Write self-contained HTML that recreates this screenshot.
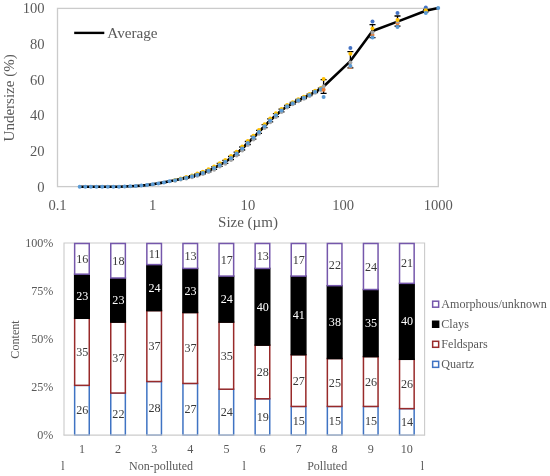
<!DOCTYPE html>
<html><head><meta charset="utf-8"><title>Chart</title>
<style>
html,body{margin:0;padding:0;background:#fff;}
svg{display:block;}
text{font-family:"Liberation Serif",serif;fill:#595959;}
</style></head><body>
<svg width="550" height="476" viewBox="0 0 550 476">
<rect width="550" height="476" fill="#fff"/>

<rect x="57.5" y="8.4" width="380.8" height="178.2" fill="none" stroke="#cbcbcb" stroke-width="1.3"/>
<text x="44.6" y="13.3" font-size="14.6" text-anchor="end">100</text>
<text x="44.6" y="48.9" font-size="14.6" text-anchor="end">80</text>
<text x="44.6" y="84.6" font-size="14.6" text-anchor="end">60</text>
<text x="44.6" y="120.2" font-size="14.6" text-anchor="end">40</text>
<text x="44.6" y="155.9" font-size="14.6" text-anchor="end">20</text>
<text x="44.6" y="191.5" font-size="14.6" text-anchor="end">0</text>
<text x="57.5" y="209.7" font-size="14.6" text-anchor="middle">0.1</text>
<text x="152.7" y="209.7" font-size="14.6" text-anchor="middle">1</text>
<text x="247.9" y="209.7" font-size="14.6" text-anchor="middle">10</text>
<text x="343.1" y="209.7" font-size="14.6" text-anchor="middle">100</text>
<text x="438.3" y="209.7" font-size="14.6" text-anchor="middle">1000</text>
<text x="248" y="226.5" font-size="15" text-anchor="middle">Size (µm)</text>
<text transform="translate(14.1,97.9) rotate(-90)" font-size="15" text-anchor="middle">Undersize (%)</text>
<line x1="74.2" y1="32.9" x2="104.3" y2="32.9" stroke="#000" stroke-width="2.4"/>
<text x="107.3" y="37.9" font-size="15.2">Average</text>
<polyline fill="none" stroke="#000" stroke-width="2.6" stroke-linejoin="round" points="79.7,186.7 85.3,186.7 90.9,186.7 96.5,186.7 102.2,186.7 107.8,186.7 113.4,186.7 119.0,186.7 124.6,186.5 130.2,186.3 135.8,186.0 141.4,185.6 147.1,185.0 152.7,184.3 158.3,183.4 163.9,182.4 169.5,181.3 175.1,180.3 180.7,179.0 186.3,177.7 192.0,176.3 197.3,174.7 202.9,172.9 208.5,170.7 214.1,168.1 219.7,164.9 225.3,161.8 231.0,158.0 236.6,153.6 242.2,148.5 247.8,143.0 253.4,137.6 259.0,131.9 264.6,126.2 270.2,120.4 275.9,115.2 281.5,110.5 287.1,106.3 292.7,103.3 298.3,100.2 303.9,97.7 309.5,94.9 315.1,91.8 320.8,88.9 323.6,86.5 350.4,61.1 372.5,31.0 397.5,21.6 425.8,10.7 438.2,8.0"/>
<circle cx="79.7" cy="186.7" r="2.0" fill="#5b9bd5"/>
<circle cx="85.3" cy="186.7" r="2.0" fill="#5b9bd5"/>
<circle cx="90.9" cy="186.7" r="2.0" fill="#5b9bd5"/>
<circle cx="96.5" cy="186.7" r="2.0" fill="#5b9bd5"/>
<circle cx="102.2" cy="186.7" r="2.0" fill="#5b9bd5"/>
<circle cx="107.8" cy="186.7" r="2.0" fill="#5b9bd5"/>
<circle cx="113.4" cy="186.7" r="2.0" fill="#5b9bd5"/>
<circle cx="119.0" cy="186.7" r="2.0" fill="#5b9bd5"/>
<circle cx="124.6" cy="186.5" r="2.0" fill="#5b9bd5"/>
<circle cx="130.2" cy="186.3" r="2.0" fill="#5b9bd5"/>
<circle cx="135.8" cy="186.0" r="2.0" fill="#5b9bd5"/>
<circle cx="141.4" cy="185.6" r="2.0" fill="#5b9bd5"/>
<circle cx="147.1" cy="185.0" r="2.0" fill="#5b9bd5"/>
<circle cx="152.7" cy="184.3" r="2.0" fill="#5b9bd5"/>
<circle cx="158.3" cy="183.4" r="2.0" fill="#5b9bd5"/>
<circle cx="163.9" cy="182.4" r="2.0" fill="#5b9bd5"/>
<circle cx="169.5" cy="181.3" r="2.0" fill="#5b9bd5"/>
<circle cx="175.1" cy="180.7" r="2.0" fill="#a5a5a5"/>
<circle cx="175.1" cy="179.9" r="2.0" fill="#ffc000"/>
<circle cx="175.1" cy="180.3" r="2.0" fill="#5b9bd5"/>
<path d="M180.7,178.6V179.4M177.7,178.6H183.7M177.7,179.4H183.7" stroke="#000" stroke-width="1.3" fill="none"/>
<circle cx="180.7" cy="179.5" r="2.0" fill="#a5a5a5"/>
<circle cx="180.7" cy="178.5" r="2.0" fill="#ffc000"/>
<circle cx="180.7" cy="179.0" r="2.0" fill="#5b9bd5"/>
<path d="M186.3,177.1V178.3M183.3,177.1H189.3M183.3,178.3H189.3" stroke="#000" stroke-width="1.3" fill="none"/>
<circle cx="186.3" cy="178.4" r="2.0" fill="#a5a5a5"/>
<circle cx="186.3" cy="177.0" r="2.0" fill="#ffc000"/>
<circle cx="186.3" cy="177.7" r="2.0" fill="#5b9bd5"/>
<path d="M192.0,175.6V177.0M189.0,175.6H195.0M189.0,177.0H195.0" stroke="#000" stroke-width="1.3" fill="none"/>
<circle cx="192.0" cy="177.2" r="2.0" fill="#a5a5a5"/>
<circle cx="192.0" cy="175.4" r="2.0" fill="#ffc000"/>
<circle cx="192.0" cy="176.3" r="2.0" fill="#5b9bd5"/>
<path d="M197.3,173.9V175.5M194.3,173.9H200.3M194.3,175.5H200.3" stroke="#000" stroke-width="1.3" fill="none"/>
<circle cx="197.3" cy="175.8" r="2.0" fill="#a5a5a5"/>
<circle cx="197.3" cy="173.6" r="2.0" fill="#ffc000"/>
<circle cx="197.3" cy="174.7" r="2.0" fill="#5b9bd5"/>
<path d="M202.9,171.9V173.9M199.9,171.9H205.9M199.9,173.9H205.9" stroke="#000" stroke-width="1.3" fill="none"/>
<circle cx="202.9" cy="174.1" r="2.0" fill="#a5a5a5"/>
<circle cx="202.9" cy="171.7" r="2.0" fill="#ffc000"/>
<circle cx="202.9" cy="172.9" r="2.0" fill="#5b9bd5"/>
<path d="M208.5,169.6V171.8M205.5,169.6H211.5M205.5,171.8H211.5" stroke="#000" stroke-width="1.3" fill="none"/>
<circle cx="208.5" cy="172.1" r="2.0" fill="#a5a5a5"/>
<circle cx="208.5" cy="169.3" r="2.0" fill="#ffc000"/>
<circle cx="208.5" cy="170.7" r="2.0" fill="#5b9bd5"/>
<path d="M214.1,166.9V169.3M211.1,166.9H217.1M211.1,169.3H217.1" stroke="#000" stroke-width="1.3" fill="none"/>
<circle cx="214.1" cy="169.7" r="2.0" fill="#a5a5a5"/>
<circle cx="214.1" cy="166.5" r="2.0" fill="#ffc000"/>
<circle cx="214.1" cy="168.1" r="2.0" fill="#5b9bd5"/>
<path d="M219.7,163.5V166.3M216.7,163.5H222.7M216.7,166.3H222.7" stroke="#000" stroke-width="1.3" fill="none"/>
<circle cx="219.7" cy="166.6" r="2.0" fill="#a5a5a5"/>
<circle cx="219.7" cy="163.2" r="2.0" fill="#ffc000"/>
<circle cx="219.7" cy="164.9" r="2.0" fill="#5b9bd5"/>
<path d="M225.3,160.3V163.3M222.3,160.3H228.3M222.3,163.3H228.3" stroke="#000" stroke-width="1.3" fill="none"/>
<circle cx="225.3" cy="163.7" r="2.0" fill="#a5a5a5"/>
<circle cx="225.3" cy="159.9" r="2.0" fill="#ffc000"/>
<circle cx="225.3" cy="161.8" r="2.0" fill="#5b9bd5"/>
<path d="M231.0,156.5V159.5M228.0,156.5H234.0M228.0,159.5H234.0" stroke="#000" stroke-width="1.3" fill="none"/>
<circle cx="231.0" cy="159.9" r="2.0" fill="#a5a5a5"/>
<circle cx="231.0" cy="156.1" r="2.0" fill="#ffc000"/>
<circle cx="231.0" cy="158.0" r="2.0" fill="#5b9bd5"/>
<path d="M236.6,152.1V155.1M233.6,152.1H239.6M233.6,155.1H239.6" stroke="#000" stroke-width="1.3" fill="none"/>
<circle cx="236.6" cy="155.5" r="2.0" fill="#a5a5a5"/>
<circle cx="236.6" cy="151.7" r="2.0" fill="#ffc000"/>
<circle cx="236.6" cy="153.6" r="2.0" fill="#5b9bd5"/>
<path d="M242.2,147.0V150.0M239.2,147.0H245.2M239.2,150.0H245.2" stroke="#000" stroke-width="1.3" fill="none"/>
<circle cx="242.2" cy="150.4" r="2.0" fill="#a5a5a5"/>
<circle cx="242.2" cy="146.6" r="2.0" fill="#ffc000"/>
<circle cx="242.2" cy="148.5" r="2.0" fill="#5b9bd5"/>
<path d="M247.8,141.5V144.5M244.8,141.5H250.8M244.8,144.5H250.8" stroke="#000" stroke-width="1.3" fill="none"/>
<circle cx="247.8" cy="144.9" r="2.0" fill="#a5a5a5"/>
<circle cx="247.8" cy="141.1" r="2.0" fill="#ffc000"/>
<circle cx="247.8" cy="143.0" r="2.0" fill="#5b9bd5"/>
<path d="M253.4,136.1V139.1M250.4,136.1H256.4M250.4,139.1H256.4" stroke="#000" stroke-width="1.3" fill="none"/>
<circle cx="253.4" cy="139.5" r="2.0" fill="#a5a5a5"/>
<circle cx="253.4" cy="135.7" r="2.0" fill="#ffc000"/>
<circle cx="253.4" cy="137.6" r="2.0" fill="#5b9bd5"/>
<path d="M259.0,130.4V133.4M256.0,130.4H262.0M256.0,133.4H262.0" stroke="#000" stroke-width="1.3" fill="none"/>
<circle cx="259.0" cy="133.8" r="2.0" fill="#a5a5a5"/>
<circle cx="259.0" cy="130.0" r="2.0" fill="#ffc000"/>
<circle cx="259.0" cy="131.9" r="2.0" fill="#5b9bd5"/>
<path d="M264.6,124.7V127.7M261.6,124.7H267.6M261.6,127.7H267.6" stroke="#000" stroke-width="1.3" fill="none"/>
<circle cx="264.6" cy="128.1" r="2.0" fill="#a5a5a5"/>
<circle cx="264.6" cy="124.3" r="2.0" fill="#ffc000"/>
<circle cx="264.6" cy="126.2" r="2.0" fill="#5b9bd5"/>
<path d="M270.2,118.9V121.9M267.2,118.9H273.2M267.2,121.9H273.2" stroke="#000" stroke-width="1.3" fill="none"/>
<circle cx="270.2" cy="122.3" r="2.0" fill="#a5a5a5"/>
<circle cx="270.2" cy="118.5" r="2.0" fill="#ffc000"/>
<circle cx="270.2" cy="120.4" r="2.0" fill="#5b9bd5"/>
<path d="M275.9,113.7V116.7M272.9,113.7H278.9M272.9,116.7H278.9" stroke="#000" stroke-width="1.3" fill="none"/>
<circle cx="275.9" cy="117.1" r="2.0" fill="#a5a5a5"/>
<circle cx="275.9" cy="113.3" r="2.0" fill="#ffc000"/>
<circle cx="275.9" cy="115.2" r="2.0" fill="#5b9bd5"/>
<path d="M281.5,109.2V111.8M278.5,109.2H284.5M278.5,111.8H284.5" stroke="#000" stroke-width="1.3" fill="none"/>
<circle cx="281.5" cy="112.1" r="2.0" fill="#a5a5a5"/>
<circle cx="281.5" cy="108.9" r="2.0" fill="#ffc000"/>
<circle cx="281.5" cy="110.5" r="2.0" fill="#5b9bd5"/>
<path d="M287.1,105.3V107.3M284.1,105.3H290.1M284.1,107.3H290.1" stroke="#000" stroke-width="1.3" fill="none"/>
<circle cx="287.1" cy="107.6" r="2.0" fill="#a5a5a5"/>
<circle cx="287.1" cy="105.0" r="2.0" fill="#ffc000"/>
<circle cx="287.1" cy="106.3" r="2.0" fill="#5b9bd5"/>
<path d="M292.7,102.5V104.1M289.7,102.5H295.7M289.7,104.1H295.7" stroke="#000" stroke-width="1.3" fill="none"/>
<circle cx="292.7" cy="104.3" r="2.0" fill="#a5a5a5"/>
<circle cx="292.7" cy="102.3" r="2.0" fill="#ffc000"/>
<circle cx="292.7" cy="103.3" r="2.0" fill="#5b9bd5"/>
<path d="M298.3,99.4V101.0M295.3,99.4H301.3M295.3,101.0H301.3" stroke="#000" stroke-width="1.3" fill="none"/>
<circle cx="298.3" cy="101.2" r="2.0" fill="#a5a5a5"/>
<circle cx="298.3" cy="99.2" r="2.0" fill="#ffc000"/>
<circle cx="298.3" cy="100.2" r="2.0" fill="#5b9bd5"/>
<path d="M303.9,96.9V98.5M300.9,96.9H306.9M300.9,98.5H306.9" stroke="#000" stroke-width="1.3" fill="none"/>
<circle cx="303.9" cy="98.7" r="2.0" fill="#a5a5a5"/>
<circle cx="303.9" cy="96.7" r="2.0" fill="#ffc000"/>
<circle cx="303.9" cy="97.7" r="2.0" fill="#5b9bd5"/>
<path d="M309.5,94.1V95.7M306.5,94.1H312.5M306.5,95.7H312.5" stroke="#000" stroke-width="1.3" fill="none"/>
<circle cx="309.5" cy="95.9" r="2.0" fill="#a5a5a5"/>
<circle cx="309.5" cy="93.9" r="2.0" fill="#ffc000"/>
<circle cx="309.5" cy="94.9" r="2.0" fill="#5b9bd5"/>
<path d="M315.1,91.0V92.6M312.1,91.0H318.1M312.1,92.6H318.1" stroke="#000" stroke-width="1.3" fill="none"/>
<circle cx="315.1" cy="92.8" r="2.0" fill="#a5a5a5"/>
<circle cx="315.1" cy="90.8" r="2.0" fill="#ffc000"/>
<circle cx="315.1" cy="91.8" r="2.0" fill="#5b9bd5"/>
<path d="M320.8,88.1V89.7M317.8,88.1H323.8M317.8,89.7H323.8" stroke="#000" stroke-width="1.3" fill="none"/>
<circle cx="320.8" cy="89.9" r="2.0" fill="#a5a5a5"/>
<circle cx="320.8" cy="87.9" r="2.0" fill="#ffc000"/>
<circle cx="320.8" cy="88.9" r="2.0" fill="#5b9bd5"/>
<path d="M323.6,79.6V93.3M320.6,79.6H326.6M320.6,93.3H326.6" stroke="#000" stroke-width="1.3" fill="none"/>
<circle cx="323.6" cy="79.1" r="2.0" fill="#ffc000"/>
<circle cx="323.6" cy="89.7" r="2.0" fill="#ed7d31"/>
<circle cx="323.6" cy="86.2" r="2.0" fill="#a5a5a5"/>
<circle cx="323.6" cy="97.1" r="2.0" fill="#5b9bd5"/>
<path d="M350.4,51.6V67.8M347.4,51.6H353.4M347.4,67.8H353.4" stroke="#000" stroke-width="1.3" fill="none"/>
<circle cx="350.4" cy="47.9" r="2.0" fill="#4472c4"/>
<circle cx="350.4" cy="53.8" r="2.0" fill="#ffc000"/>
<circle cx="350.4" cy="67.0" r="2.0" fill="#ed7d31"/>
<circle cx="350.4" cy="62.6" r="2.0" fill="#a5a5a5"/>
<circle cx="350.4" cy="65.9" r="2.0" fill="#5b9bd5"/>
<path d="M372.5,24.7V37.6M369.5,24.7H375.5M369.5,37.6H375.5" stroke="#000" stroke-width="1.3" fill="none"/>
<circle cx="372.5" cy="21.5" r="2.0" fill="#4472c4"/>
<circle cx="372.5" cy="28.4" r="2.0" fill="#ffc000"/>
<circle cx="372.5" cy="35.0" r="2.0" fill="#ed7d31"/>
<circle cx="372.5" cy="32.4" r="2.0" fill="#a5a5a5"/>
<circle cx="372.5" cy="37.6" r="2.0" fill="#5b9bd5"/>
<path d="M397.5,16.0V26.2M394.5,16.0H400.5M394.5,26.2H400.5" stroke="#000" stroke-width="1.3" fill="none"/>
<circle cx="397.5" cy="13.1" r="2.0" fill="#4472c4"/>
<circle cx="397.5" cy="23.3" r="2.0" fill="#ed7d31"/>
<circle cx="397.5" cy="21.8" r="2.0" fill="#a5a5a5"/>
<circle cx="397.5" cy="20.0" r="2.0" fill="#ffc000"/>
<circle cx="397.5" cy="26.9" r="2.0" fill="#5b9bd5"/>
<path d="M425.8,9.3V12.2M423.2,9.3H428.4M423.2,12.2H428.4" stroke="#000" stroke-width="1.3" fill="none"/>
<circle cx="425.8" cy="7.6" r="2.0" fill="#4472c4"/>
<circle cx="425.8" cy="11.2" r="2.0" fill="#a5a5a5"/>
<circle cx="425.8" cy="10.2" r="2.0" fill="#ffc000"/>
<circle cx="425.8" cy="13.1" r="2.0" fill="#5b9bd5"/>
<circle cx="438.2" cy="8.0" r="2.0" fill="#5b9bd5"/>
<path d="M64.0,435.2V243.0H424.6V435.2" fill="none" stroke="#cbcbcb" stroke-width="1.1"/>
<text x="53.4" y="246.9" font-size="12.1" text-anchor="end">100%</text>
<text x="53.4" y="294.9" font-size="12.1" text-anchor="end">75%</text>
<text x="53.4" y="343.0" font-size="12.1" text-anchor="end">50%</text>
<text x="53.4" y="391.0" font-size="12.1" text-anchor="end">25%</text>
<text x="53.4" y="439.1" font-size="12.1" text-anchor="end">0%</text>
<text transform="translate(18.7,339.5) rotate(-90)" font-size="12.1" text-anchor="middle">Content</text>
<rect x="74.65" y="385.36" width="14.6" height="49.84" fill="#fff" stroke="#3f73c3" stroke-width="1.5"/>
<rect x="74.65" y="318.26" width="14.6" height="67.09" fill="#fff" stroke="#982a2a" stroke-width="1.5"/>
<rect x="74.65" y="274.17" width="14.6" height="44.09" fill="#000" stroke="#000" stroke-width="1.5"/>
<rect x="74.65" y="243.50" width="14.6" height="30.67" fill="#fff" stroke="#7557ab" stroke-width="1.5"/>
<rect x="110.75" y="393.03" width="14.6" height="42.17" fill="#fff" stroke="#3f73c3" stroke-width="1.5"/>
<rect x="110.75" y="322.10" width="14.6" height="70.93" fill="#fff" stroke="#982a2a" stroke-width="1.5"/>
<rect x="110.75" y="278.01" width="14.6" height="44.09" fill="#000" stroke="#000" stroke-width="1.5"/>
<rect x="110.75" y="243.50" width="14.6" height="34.51" fill="#fff" stroke="#7557ab" stroke-width="1.5"/>
<rect x="146.85" y="381.52" width="14.6" height="53.68" fill="#fff" stroke="#3f73c3" stroke-width="1.5"/>
<rect x="146.85" y="310.59" width="14.6" height="70.93" fill="#fff" stroke="#982a2a" stroke-width="1.5"/>
<rect x="146.85" y="264.59" width="14.6" height="46.01" fill="#000" stroke="#000" stroke-width="1.5"/>
<rect x="146.85" y="243.50" width="14.6" height="21.09" fill="#fff" stroke="#7557ab" stroke-width="1.5"/>
<rect x="182.95" y="383.44" width="14.6" height="51.76" fill="#fff" stroke="#3f73c3" stroke-width="1.5"/>
<rect x="182.95" y="312.51" width="14.6" height="70.93" fill="#fff" stroke="#982a2a" stroke-width="1.5"/>
<rect x="182.95" y="268.42" width="14.6" height="44.09" fill="#000" stroke="#000" stroke-width="1.5"/>
<rect x="182.95" y="243.50" width="14.6" height="24.92" fill="#fff" stroke="#7557ab" stroke-width="1.5"/>
<rect x="219.05" y="389.19" width="14.6" height="46.01" fill="#fff" stroke="#3f73c3" stroke-width="1.5"/>
<rect x="219.05" y="322.10" width="14.6" height="67.10" fill="#fff" stroke="#982a2a" stroke-width="1.5"/>
<rect x="219.05" y="276.09" width="14.6" height="46.01" fill="#000" stroke="#000" stroke-width="1.5"/>
<rect x="219.05" y="243.50" width="14.6" height="32.59" fill="#fff" stroke="#7557ab" stroke-width="1.5"/>
<rect x="255.15" y="398.78" width="14.6" height="36.42" fill="#fff" stroke="#3f73c3" stroke-width="1.5"/>
<rect x="255.15" y="345.10" width="14.6" height="53.68" fill="#fff" stroke="#982a2a" stroke-width="1.5"/>
<rect x="255.15" y="268.42" width="14.6" height="76.68" fill="#000" stroke="#000" stroke-width="1.5"/>
<rect x="255.15" y="243.50" width="14.6" height="24.92" fill="#fff" stroke="#7557ab" stroke-width="1.5"/>
<rect x="291.25" y="406.44" width="14.6" height="28.75" fill="#fff" stroke="#3f73c3" stroke-width="1.5"/>
<rect x="291.25" y="354.69" width="14.6" height="51.76" fill="#fff" stroke="#982a2a" stroke-width="1.5"/>
<rect x="291.25" y="276.09" width="14.6" height="78.60" fill="#000" stroke="#000" stroke-width="1.5"/>
<rect x="291.25" y="243.50" width="14.6" height="32.59" fill="#fff" stroke="#7557ab" stroke-width="1.5"/>
<rect x="327.35" y="406.44" width="14.6" height="28.75" fill="#fff" stroke="#3f73c3" stroke-width="1.5"/>
<rect x="327.35" y="358.52" width="14.6" height="47.93" fill="#fff" stroke="#982a2a" stroke-width="1.5"/>
<rect x="327.35" y="285.67" width="14.6" height="72.85" fill="#000" stroke="#000" stroke-width="1.5"/>
<rect x="327.35" y="243.50" width="14.6" height="42.17" fill="#fff" stroke="#7557ab" stroke-width="1.5"/>
<rect x="363.45" y="406.44" width="14.6" height="28.75" fill="#fff" stroke="#3f73c3" stroke-width="1.5"/>
<rect x="363.45" y="356.60" width="14.6" height="49.84" fill="#fff" stroke="#982a2a" stroke-width="1.5"/>
<rect x="363.45" y="289.51" width="14.6" height="67.09" fill="#000" stroke="#000" stroke-width="1.5"/>
<rect x="363.45" y="243.50" width="14.6" height="46.01" fill="#fff" stroke="#7557ab" stroke-width="1.5"/>
<rect x="399.55" y="408.63" width="14.6" height="26.57" fill="#fff" stroke="#3f73c3" stroke-width="1.5"/>
<rect x="399.55" y="359.28" width="14.6" height="49.35" fill="#fff" stroke="#982a2a" stroke-width="1.5"/>
<rect x="399.55" y="283.36" width="14.6" height="75.92" fill="#000" stroke="#000" stroke-width="1.5"/>
<rect x="399.55" y="243.50" width="14.6" height="39.86" fill="#fff" stroke="#7557ab" stroke-width="1.5"/>
<line x1="63.5" y1="435.2" x2="425.1" y2="435.2" stroke="#cbcbcb" stroke-width="1.2"/>
<text x="82.2" y="414.3" font-size="12.1" text-anchor="middle" style="fill:#383838">26</text>
<text x="82.2" y="355.8" font-size="12.1" text-anchor="middle" style="fill:#383838">35</text>
<text x="82.2" y="300.2" font-size="12.1" text-anchor="middle" style="fill:#fff">23</text>
<text x="82.2" y="262.8" font-size="12.1" text-anchor="middle" style="fill:#383838">16</text>
<text x="82.0" y="453.4" font-size="12.1" text-anchor="middle">1</text>
<text x="118.4" y="418.1" font-size="12.1" text-anchor="middle" style="fill:#383838">22</text>
<text x="118.4" y="361.6" font-size="12.1" text-anchor="middle" style="fill:#383838">37</text>
<text x="118.4" y="304.1" font-size="12.1" text-anchor="middle" style="fill:#fff">23</text>
<text x="118.4" y="264.8" font-size="12.1" text-anchor="middle" style="fill:#383838">18</text>
<text x="118.1" y="453.4" font-size="12.1" text-anchor="middle">2</text>
<text x="154.5" y="412.4" font-size="12.1" text-anchor="middle" style="fill:#383838">28</text>
<text x="154.5" y="350.1" font-size="12.1" text-anchor="middle" style="fill:#383838">37</text>
<text x="154.5" y="291.6" font-size="12.1" text-anchor="middle" style="fill:#fff">24</text>
<text x="154.5" y="258.0" font-size="12.1" text-anchor="middle" style="fill:#383838">11</text>
<text x="154.2" y="453.4" font-size="12.1" text-anchor="middle">3</text>
<text x="190.6" y="413.3" font-size="12.1" text-anchor="middle" style="fill:#383838">27</text>
<text x="190.6" y="352.0" font-size="12.1" text-anchor="middle" style="fill:#383838">37</text>
<text x="190.6" y="294.5" font-size="12.1" text-anchor="middle" style="fill:#fff">23</text>
<text x="190.6" y="260.0" font-size="12.1" text-anchor="middle" style="fill:#383838">13</text>
<text x="190.3" y="453.4" font-size="12.1" text-anchor="middle">4</text>
<text x="226.7" y="416.2" font-size="12.1" text-anchor="middle" style="fill:#383838">24</text>
<text x="226.7" y="359.6" font-size="12.1" text-anchor="middle" style="fill:#383838">35</text>
<text x="226.7" y="303.1" font-size="12.1" text-anchor="middle" style="fill:#fff">24</text>
<text x="226.7" y="263.8" font-size="12.1" text-anchor="middle" style="fill:#383838">17</text>
<text x="226.4" y="453.4" font-size="12.1" text-anchor="middle">5</text>
<text x="262.8" y="421.0" font-size="12.1" text-anchor="middle" style="fill:#383838">19</text>
<text x="262.8" y="375.9" font-size="12.1" text-anchor="middle" style="fill:#383838">28</text>
<text x="262.8" y="310.8" font-size="12.1" text-anchor="middle" style="fill:#fff">40</text>
<text x="262.8" y="260.0" font-size="12.1" text-anchor="middle" style="fill:#383838">13</text>
<text x="262.4" y="453.4" font-size="12.1" text-anchor="middle">6</text>
<text x="298.8" y="424.8" font-size="12.1" text-anchor="middle" style="fill:#383838">15</text>
<text x="298.8" y="384.6" font-size="12.1" text-anchor="middle" style="fill:#383838">27</text>
<text x="298.8" y="319.4" font-size="12.1" text-anchor="middle" style="fill:#fff">41</text>
<text x="298.8" y="263.8" font-size="12.1" text-anchor="middle" style="fill:#383838">17</text>
<text x="298.5" y="453.4" font-size="12.1" text-anchor="middle">7</text>
<text x="334.9" y="424.8" font-size="12.1" text-anchor="middle" style="fill:#383838">15</text>
<text x="334.9" y="386.5" font-size="12.1" text-anchor="middle" style="fill:#383838">25</text>
<text x="334.9" y="326.1" font-size="12.1" text-anchor="middle" style="fill:#fff">38</text>
<text x="334.9" y="268.6" font-size="12.1" text-anchor="middle" style="fill:#383838">22</text>
<text x="334.6" y="453.4" font-size="12.1" text-anchor="middle">8</text>
<text x="371.1" y="424.8" font-size="12.1" text-anchor="middle" style="fill:#383838">15</text>
<text x="371.1" y="385.5" font-size="12.1" text-anchor="middle" style="fill:#383838">26</text>
<text x="371.1" y="327.1" font-size="12.1" text-anchor="middle" style="fill:#fff">35</text>
<text x="371.1" y="270.5" font-size="12.1" text-anchor="middle" style="fill:#383838">24</text>
<text x="370.8" y="453.4" font-size="12.1" text-anchor="middle">9</text>
<text x="407.1" y="425.9" font-size="12.1" text-anchor="middle" style="fill:#383838">14</text>
<text x="407.1" y="388.0" font-size="12.1" text-anchor="middle" style="fill:#383838">26</text>
<text x="407.1" y="325.3" font-size="12.1" text-anchor="middle" style="fill:#fff">40</text>
<text x="407.1" y="267.4" font-size="12.1" text-anchor="middle" style="fill:#383838">21</text>
<text x="406.8" y="453.4" font-size="12.1" text-anchor="middle">10</text>
<text x="63.0" y="470.0" font-size="12" text-anchor="middle">l</text>
<text x="244.2" y="470.0" font-size="12" text-anchor="middle">l</text>
<text x="422.5" y="470.0" font-size="12" text-anchor="middle">l</text>
<text x="161.0" y="470.0" font-size="12" text-anchor="middle">Non-polluted</text>
<text x="327.2" y="470.0" font-size="12" text-anchor="middle">Polluted</text>
<rect x="432.65" y="301.20" width="6.0" height="6.0" fill="#fff" stroke="#7557ab" stroke-width="1.5"/>
<text x="441.3" y="307.6" font-size="12.1">Amorphous/unknown</text>
<rect x="432.65" y="321.25" width="6.0" height="6.0" fill="#000" stroke="#000" stroke-width="1.5"/>
<text x="441.3" y="327.6" font-size="12.1">Clays</text>
<rect x="432.65" y="341.30" width="6.0" height="6.0" fill="#fff" stroke="#982a2a" stroke-width="1.5"/>
<text x="441.3" y="347.7" font-size="12.1">Feldspars</text>
<rect x="432.65" y="361.35" width="6.0" height="6.0" fill="#fff" stroke="#3f73c3" stroke-width="1.5"/>
<text x="441.3" y="367.8" font-size="12.1">Quartz</text>
</svg></body></html>
